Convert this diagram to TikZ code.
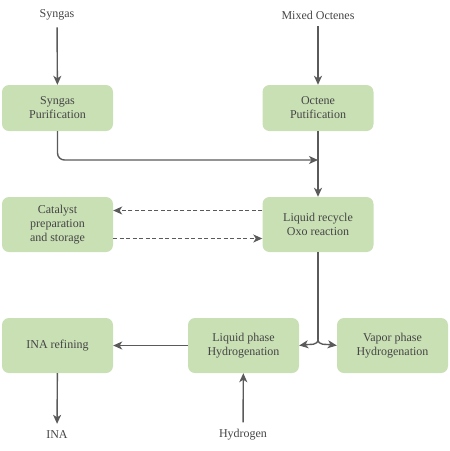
\documentclass[tikz,border=0pt]{standalone}
\usepackage{fontspec}
\setmainfont{Liberation Serif}
\usepackage{xcolor}
\definecolor{boxgreen}{HTML}{C9E0B5}
\definecolor{linegray}{HTML}{5A5A5A}
\definecolor{textgray}{HTML}{454545}
\usetikzlibrary{arrows.meta,positioning}

\begin{document}
\begin{tikzpicture}[x=1pt,y=-1pt, font=\rmfamily\fontsize{12}{14}\selectfont,
      box/.style={fill=boxgreen,rounded corners=7pt,minimum width=111pt,align=center,text=textgray,inner sep=2pt},
      feed/.style={text=textgray,inner sep=7pt},
      trans/.style={-{Stealth[length=9pt,width=8pt,inset=2.5pt]},line width=1.4pt,draw=linegray},
      dtrans/.style={trans,dashed,line width=1.2pt,dash pattern=on 4pt off 2.5pt},
      ]
      \useasboundingbox (0,0) rectangle (450,451);
      % feeds and products
      \node (syngas) at (57,15) [feed] {Syngas};
      \node (octenes) at (318,15) [feed] {Mixed Octenes};
      \node (ina) at (57,435) [feed] {INA};
      \node (hydrogen) at (243,435) [feed] {Hydrogen};

      % process units
      \node (sp) at (57.5,108) [box,minimum height=46pt] {Syngas\\Purification};
      \node (op) at (318,108) [box,minimum height=46pt] {Octene\\Putification};
      \node (cat) at (57.5,224.5) [box,minimum height=55pt] {Catalyst\\preparation\\and storage};
      \node (oxo) at (318,224.5) [box,minimum height=55pt] {Liquid recycle\\Oxo reaction};
      \node (ref) at (57.5,345.5) [box,minimum height=55pt] {INA refining};
      \node (lph) at (243.5,345.5) [box,minimum height=55pt] {Liquid phase\\Hydrogenation};
      \node (vph) at (392.5,345.5) [box,minimum height=55pt] {Vapor phase\\Hydrogenation};

      \coordinate (join) at (318,160);
      \coordinate (split) at (318,339);

      \draw [trans] (syngas) to (sp);
      \draw [trans] (octenes) to (op);
      \draw [trans,rounded corners=7pt] (sp) |- (join);
      \draw [trans] (op) to (oxo);
      \draw [dtrans] ([yshift=14pt]oxo.west) to ([yshift=14pt]cat.east);
      \draw [dtrans] ([yshift=-14pt]cat.east) to ([yshift=-14pt]oxo.west);
      \draw [line width=1.4pt,draw=linegray] (oxo) to (split);
      \draw [trans] (split) .. controls (318,346) and (310,344) .. (lph.east);
      \draw [trans] (split) .. controls (318,346) and (326,344) .. (vph.west);
      \draw [trans] (lph) to (ref);
      \draw [trans] (ref) to (ina);
      \draw [trans] (hydrogen) to (lph);
    \end{tikzpicture}
\end{document}
